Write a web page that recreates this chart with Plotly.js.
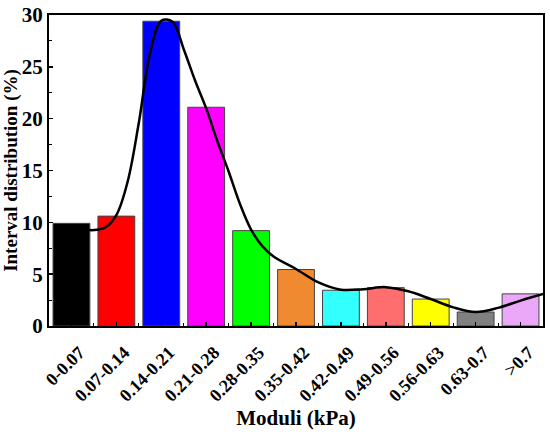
<!DOCTYPE html>
<html>
<head>
<meta charset="utf-8">
<script src="https://cdn.plot.ly/plotly-3.0.1.min.js"></script>
<style>html,body{margin:0;padding:0;background:#fff;}#chart{width:550px;height:434px;}</style>
</head>
<body>
<div id="chart"></div>
<script>
const categories = ["0-0.07","0.07-0.14","0.14-0.21","0.21-0.28","0.28-0.35","0.35-0.42","0.42-0.49","0.49-0.56","0.56-0.63","0.63-0.7",">0.7"];
const values = [9.9, 10.6, 29.4, 21.1, 9.2, 5.45, 3.45, 3.7, 2.6, 1.35, 3.1];
const barColors = ["#000000","#FF0000","#0000FF","#FF00FF","#00FF00","#F08A30","#33FFFF","#FF6E6E","#FFFF00","#808080","#EBA8F8"];
// fitted curve (x in category index units)
const curveX = [0, 0.25, 0.5, 0.75, 1, 1.25, 1.5, 1.75, 2, 2.25, 2.5, 2.75, 3, 3.25, 3.5, 3.75, 4, 4.25, 4.5, 5, 5.5, 6, 6.5, 7, 7.5, 8, 8.5, 9, 9.5, 10, 10.5];
const curveY = [9.6, 9.35, 9.25, 9.5, 10.7, 13.9, 19.6, 26.3, 29.45, 29.35, 26.7, 23.7, 21.0, 17.8, 14.9, 11.8, 9.3, 7.7, 6.7, 5.5, 4.2, 3.5, 3.55, 3.75, 3.35, 2.6, 1.8, 1.35, 1.75, 2.45, 3.09];

const idx = categories.map((c, i) => i);
const font = {family: "Liberation Serif, Times New Roman, serif", color: "#000", weight: "bold"};

const traces = [
  {
    type: "bar",
    x: idx,
    y: values,
    width: 0.82,
    marker: {color: barColors, line: {color: "#444", width: 1}},
    hoverinfo: "skip"
  },
  {
    type: "scatter",
    mode: "lines",
    x: curveX,
    y: curveY,
    line: {color: "#000", width: 2.5, shape: "spline", smoothing: 1},
    hoverinfo: "skip"
  }
];

const layout = {
  width: 550, height: 434,
  margin: {l: 49, r: 7, t: 15, b: 108},
  paper_bgcolor: "#fff", plot_bgcolor: "#fff",
  showlegend: false,
  font: font,
  xaxis: {
    range: [-0.5, 10.5],
    tickmode: "array", tickvals: idx, ticktext: categories,
    tickangle: -45,
    tickfont: Object.assign({}, font, {size: 18}),
    ticklabelshift: 8, ticklabelstandoff: 7,
    ticks: "inside", ticklen: 4, tickwidth: 1.5, tickcolor: "#000",
    minor: {ticks: "inside", ticklen: 3, tickwidth: 1, tickcolor: "#000", tickmode: "linear", tick0: 0.5, dtick: 1},
    showline: true, linecolor: "#000", linewidth: 2, mirror: true,
    showgrid: false, zeroline: false,
    title: {text: "Moduli (kPa)", font: Object.assign({}, font, {size: 21}), standoff: 2}
  },
  yaxis: {
    range: [0, 30],
    tickmode: "linear", tick0: 0, dtick: 5,
    tickfont: Object.assign({}, font, {size: 21}),
    ticks: "inside", ticklen: 4, tickwidth: 1.5, tickcolor: "#000",
    minor: {ticks: "inside", ticklen: 3, tickwidth: 1, tickcolor: "#000", dtick: 2.5},
    showline: true, linecolor: "#000", linewidth: 2, mirror: true,
    showgrid: false, zeroline: false,
    title: {text: "Interval distribution (%)", font: Object.assign({}, font, {size: 19}), standoff: 4}
  }
};

Plotly.newPlot("chart", traces, layout, {displayModeBar: false, staticPlot: true});
</script>
</body>
</html>
